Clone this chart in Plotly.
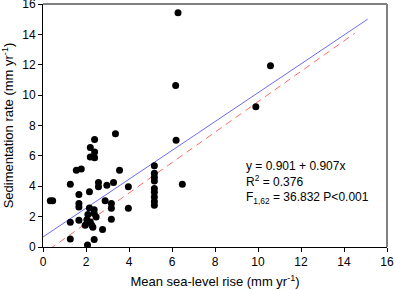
import plotly.graph_objects as go

# Observed data (mean sea-level rise vs sedimentation rate)
sea_level_rise = [0.34, 0.45, 1.27, 1.27, 1.27, 1.55, 1.78, 1.67, 1.67, 1.67,
                  1.67, 2.16, 2.20, 2.40, 2.40, 2.20, 2.40, 2.16, 2.38, 2.38,
                  2.09, 2.47, 2.04, 2.20, 1.96, 2.27, 2.32, 2.77, 2.07, 2.38,
                  2.58, 2.58, 2.97, 3.28, 2.89, 3.18, 3.18, 3.18, 3.37, 3.56,
                  3.97, 3.97, 5.18, 5.18, 5.18, 5.18, 5.18, 5.18, 5.18, 5.18,
                  5.18, 6.48, 6.19, 6.28, 6.17, 10.58, 9.90]
sedimentation = [3.05, 3.05, 4.13, 1.63, 0.52, 5.06, 5.14, 3.45, 2.86, 2.64,
                 1.76, 3.63, 6.55, 7.08, 6.26, 5.93, 5.87, 2.57, 2.46, 2.20,
                 2.14, 1.98, 1.80, 1.65, 1.43, 1.43, 1.30, 1.15, 0.13, 0.49,
                 4.24, 3.96, 4.07, 4.24, 3.05, 2.86, 2.55, 1.83, 7.45, 5.06,
                 3.96, 2.55, 5.35, 4.85, 4.60, 4.35, 3.85, 3.60, 3.30, 3.00,
                 2.75, 4.13, 7.03, 15.42, 10.64, 11.93, 9.23]

# Regression line (as drawn) and dashed reference line endpoints
fit_x = [0, 15.1]
fit_y = [0.66, 15.0]
ref_x = [0.3, 14.5]
ref_y = [-0.15, 14.07]

x_ticks = [0, 2, 4, 6, 8, 10, 12, 14, 16]
y_ticks = [0, 2, 4, 6, 8, 10, 12, 14, 16]

font_family = "Liberation Sans, Arial, sans-serif"

fig = go.Figure()
fig.add_trace(go.Scatter(x=fit_x, y=fit_y, mode="lines",
                         line=dict(color="#6b6bf0", width=1), showlegend=False))
fig.add_trace(go.Scatter(x=ref_x, y=ref_y, mode="lines",
                         line=dict(color="#ff6b6b", width=1, dash="7px,5px"),
                         showlegend=False))
fig.add_trace(go.Scatter(x=sea_level_rise, y=sedimentation, mode="markers",
                         marker=dict(color="black", size=7), showlegend=False))

fig.add_annotation(x=0.585, y=0.37, xref="paper", yref="paper",
                   xanchor="left", yanchor="top", align="left", showarrow=False,
                   text="y = 0.901 + 0.907x<br>R<sup>2</sup> = 0.376<br>F<sub>1,62</sub> = 36.832 P<0.001",
                   font=dict(size=12, color="black", family=font_family))

# grey top and right frame
fig.add_shape(type="line", xref="paper", yref="paper", x0=0, x1=1, y0=1, y1=1,
              line=dict(color="#808080", width=2))
fig.add_shape(type="line", xref="paper", yref="paper", x0=1, x1=1, y0=0, y1=1,
              line=dict(color="#808080", width=2))

axis_common = dict(range=[0, 16], showgrid=False, zeroline=False, showline=True,
                   linecolor="black", linewidth=1, ticks="outside", ticklen=4,
                   tickcolor="black", automargin=False, ticklabeloverflow="allow",
                   tickfont=dict(size=12, color="black", family=font_family))
fig.update_xaxes(**axis_common, tickvals=x_ticks,
                 title=dict(text="Mean sea-level rise (mm yr<sup>-1</sup>)",
                            font=dict(size=13, color="black", family=font_family), standoff=8))
fig.update_yaxes(**axis_common, tickvals=y_ticks,
                 title=dict(text="Sedimentation rate (mm yr<sup>-1</sup>)",
                            font=dict(size=13, color="black", family=font_family), standoff=8))

fig.update_layout(width=394, height=290, margin=dict(l=43, r=7, t=4, b=43),
                  plot_bgcolor="white", paper_bgcolor="white",
                  font=dict(family=font_family))
fig.write_html("out.html", config={"displayModeBar": False},
               post_script="document.body.style.margin='0';")
